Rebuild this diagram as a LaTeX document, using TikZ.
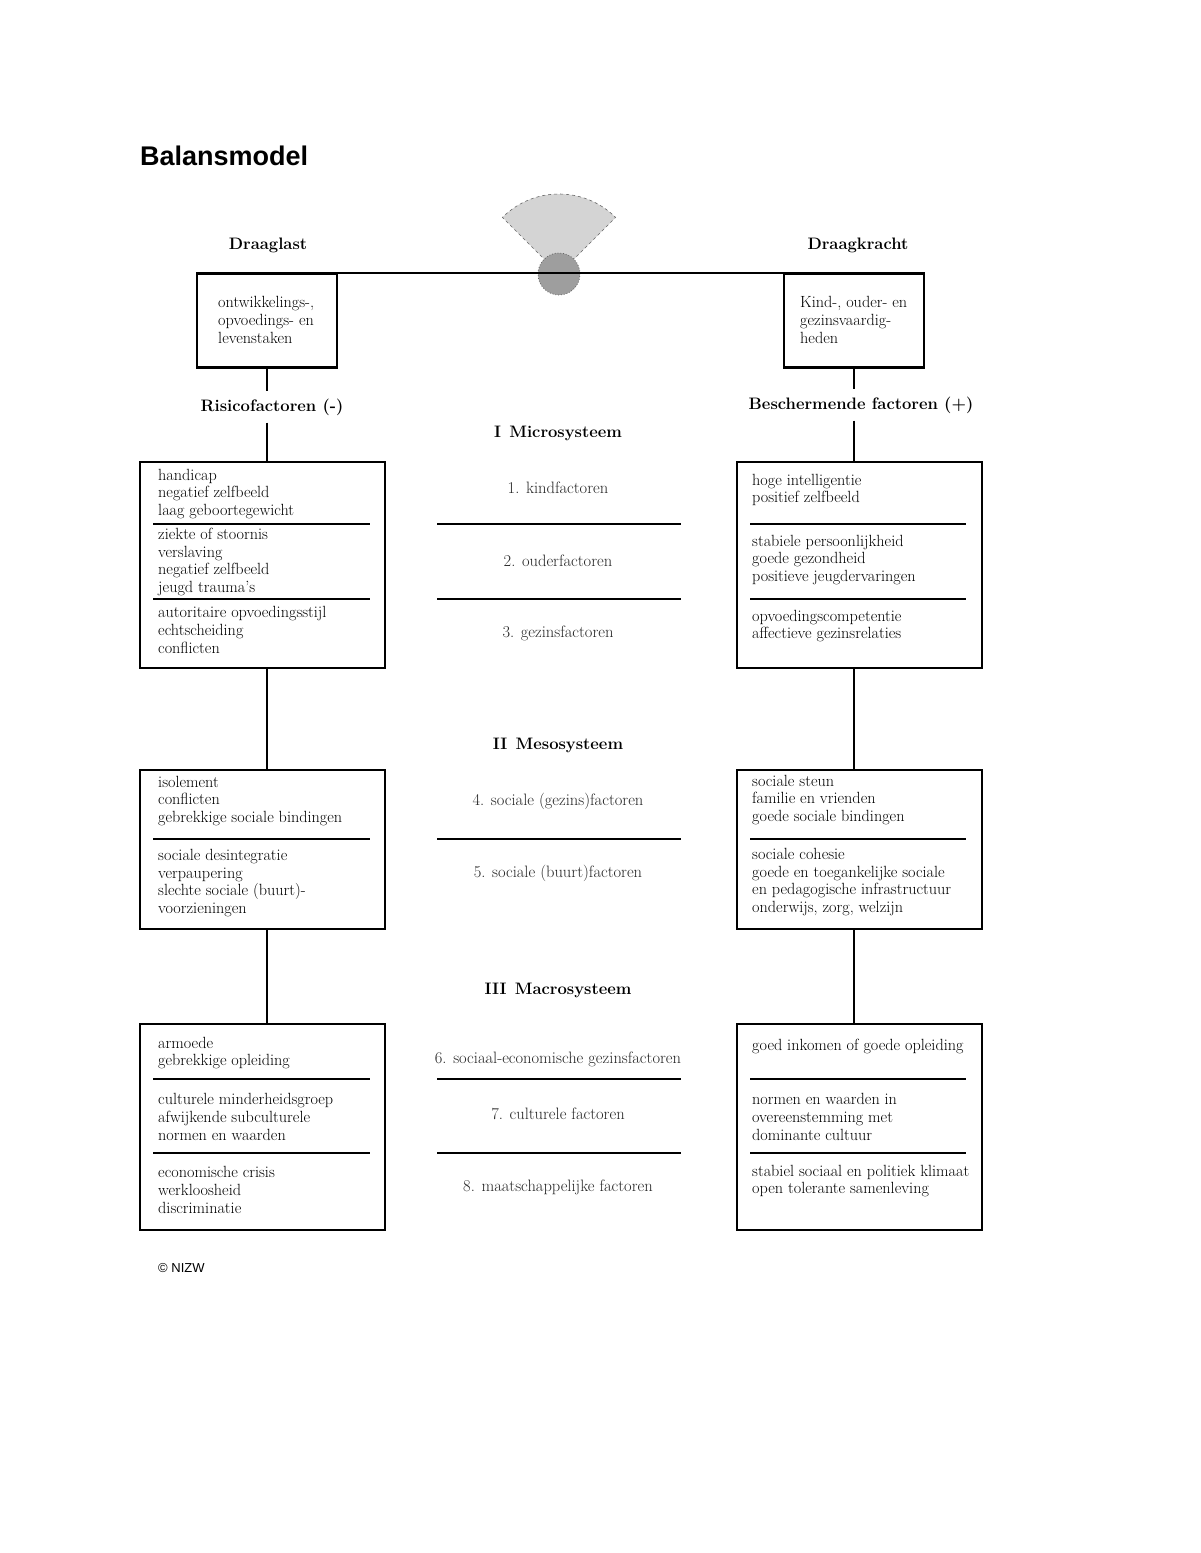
\documentclass[tikz,border=0pt]{standalone}
\usepackage{fontspec}
\newfontfamily\arialfont{Liberation Sans}
\usetikzlibrary{positioning}

\tikzset{
  factorbox/.style={draw, line width=1.6pt, anchor=north west, minimum width=245pt, inner sep=0pt},
  topbox/.style={draw, line width=1.6pt, anchor=north west, minimum width=140pt, minimum height=93pt, inner sep=0pt},
  itemtext/.style={anchor=west, align=left, inner sep=0pt, font=\fontsize{16.2}{17.6}\selectfont},
  midtext/.style={inner sep=0pt, text=black!85, font=\fontsize{16.5}{18}\selectfont},
  headtext/.style={inner sep=0pt, font=\bfseries\fontsize{16.6}{19}\selectfont},
  divthick/.style={line width=2.4pt},
  divthin/.style={line width=1.4pt},
  link/.style={line width=1.4pt}
}

\begin{document}
\begin{tikzpicture}[x=1pt, y=-1pt]
    \useasboundingbox (0,0) rectangle (1200,1553);
    \fill[white] (0,0) rectangle (1200,1553);
    % Title
    \node[anchor=base west, inner sep=0pt, font=\arialfont\bfseries\fontsize{27}{30}\selectfont] (title) at (140,165) {Balansmodel};

    % Balance: pointer and pivot
    \coordinate (pivot) at (559,274);
    \filldraw[fill=black!17, draw=black!60, dashed, line width=0.6pt] (pivot) -- ++(135:80pt) arc[start angle=135, end angle=45, radius=80pt] -- cycle;
    \filldraw[fill=black!38, draw=black!60, dotted, line width=0.8pt] (pivot) circle[radius=21pt];

    % Scale pans
    \node[topbox] (lastbox) at (196,273) {};
    \node[topbox] (krachtbox) at (783,273) {};
    \draw[line width=1.6pt] (lastbox.north west) -- (krachtbox.north east);
    \draw[line width=2.8pt] (lastbox.south west) -- (lastbox.south east);
    \draw[line width=2.8pt] (krachtbox.south west) -- (krachtbox.south east);
    \node[itemtext] (lasttext) at (218,320) {ontwikkelings-,\\opvoedings- en\\levenstaken};
    \node[itemtext] (krachttext) at (800,320) {Kind-, ouder- en\\gezinsvaardig-\\heden};
    \node[headtext] (lastlbl) at (268,245) {Draaglast};
    \node[headtext] (krachtlbl) at (858,245) {Draagkracht};

    % Column headings
    \node[headtext, inner ysep=7pt] (risklbl) at (272,407) {Risicofactoren (-)};
    \node[headtext, inner ysep=7pt] (protlbl) at (861,405) {Beschermende factoren (+)};
    \node[headtext] (micro) at (558,433) {I\enspace Microsysteem};
    \node[headtext] (meso) at (558,745) {II\enspace Mesosysteem};
    \node[headtext] (macro) at (558,990) {III\enspace Macrosysteem};

    % I Microsysteem
    \node[factorbox, minimum height=206pt] (risk1) at (139,461) {};
    \node[itemtext] (r1a) at (158,494) {handicap\\negatief zelfbeeld\\laag geboortegewicht};
    \draw[divthick] (153,524) -- (370,524);
    \node[itemtext] (r1b) at (158,562) {ziekte of stoornis\\verslaving\\negatief zelfbeeld\\jeugd trauma's};
    \draw[divthin] (153,599) -- (370,599);
    \node[itemtext] (r1c) at (158,630) {autoritaire opvoedingsstijl\\echtscheiding\\conflicten};

    \node[midtext] (kind) at (558,488) {1. kindfactoren};
    \draw[divthick] (437,524) -- (681,524);
    \node[midtext] (ouder) at (558,561) {2. ouderfactoren};
    \draw[divthin] (437,599) -- (681,599);
    \node[midtext] (gezin) at (558,633) {3. gezinsfactoren};

    \node[factorbox, minimum height=206pt] (prot1) at (736,461) {};
    \node[itemtext] (p1a) at (752,490) {hoge intelligentie\\positief zelfbeeld};
    \draw[divthick] (750,524) -- (966,524);
    \node[itemtext] (p1b) at (752,560) {stabiele persoonlijkheid\\goede gezondheid\\positieve jeugdervaringen};
    \draw[divthin] (750,599) -- (966,599);
    \node[itemtext] (p1c) at (752,626) {opvoedingscompetentie\\affectieve gezinsrelaties};

    % II Mesosysteem
    \node[factorbox, minimum height=159pt] (risk2) at (139,769) {};
    \node[itemtext] (r2a) at (158,801) {isolement\\conflicten\\gebrekkige sociale bindingen};
    \draw[divthin] (153,839) -- (370,839);
    \node[itemtext] (r2b) at (158,883) {sociale desintegratie\\verpaupering\\slechte sociale (buurt)-\\voorzieningen};

    \node[midtext] (sgezin) at (558,801) {4. sociale (gezins)factoren};
    \draw[divthin] (437,839) -- (681,839);
    \node[midtext] (sbuurt) at (558,873) {5. sociale (buurt)factoren};

    \node[factorbox, minimum height=159pt] (prot2) at (736,769) {};
    \node[itemtext] (p2a) at (752,800) {sociale steun\\familie en vrienden\\goede sociale bindingen};
    \draw[divthin] (750,839) -- (966,839);
    \node[itemtext] (p2b) at (752,882) {sociale cohesie\\goede en toegankelijke sociale\\en pedagogische infrastructuur\\onderwijs, zorg, welzijn};

    % III Macrosysteem
    \node[factorbox, minimum height=206pt] (risk3) at (139,1023) {};
    \node[itemtext] (r3a) at (158,1053) {armoede\\gebrekkige opleiding};
    \draw[divthin] (153,1079) -- (370,1079);
    \node[itemtext] (r3b) at (158,1117) {culturele minderheidsgroep\\afwijkende subculturele\\normen en waarden};
    \draw[divthick] (153,1153) -- (370,1153);
    \node[itemtext] (r3c) at (158,1190) {economische crisis\\werkloosheid\\discriminatie};

    \node[midtext] (soceco) at (558,1059) {6. sociaal-economische gezinsfactoren};
    \draw[divthin] (437,1079) -- (681,1079);
    \node[midtext] (cult) at (558,1114) {7. culturele factoren};
    \draw[divthick] (437,1153) -- (681,1153);
    \node[midtext] (maat) at (558,1187) {8. maatschappelijke factoren};

    \node[factorbox, minimum height=206pt] (prot3) at (736,1023) {};
    \node[itemtext] (p3a) at (752,1046) {goed inkomen of goede opleiding};
    \draw[divthin] (750,1079) -- (966,1079);
    \node[itemtext] (p3b) at (752,1117) {normen en waarden in\\overeenstemming met\\dominante cultuur};
    \draw[divthick] (750,1153) -- (966,1153);
    \node[itemtext] (p3c) at (752,1181) {stabiel sociaal en politiek klimaat\\open tolerante samenleving};

    % Vertical links
    \draw[link] (lastbox.south) -- (lastbox.south |- risklbl.north);
    \draw[link] (lastbox.south |- risklbl.south) -- (lastbox.south |- risk1.north);
    \draw[link] (lastbox.south |- risk1.south) -- (lastbox.south |- risk2.north);
    \draw[link] (lastbox.south |- risk2.south) -- (lastbox.south |- risk3.north);
    \draw[link] (krachtbox.south) -- (krachtbox.south |- protlbl.north);
    \draw[link] (krachtbox.south |- protlbl.south) -- (krachtbox.south |- prot1.north);
    \draw[link] (krachtbox.south |- prot1.south) -- (krachtbox.south |- prot2.north);
    \draw[link] (krachtbox.south |- prot2.south) -- (krachtbox.south |- prot3.north);

    % Source
    \node[anchor=west, inner sep=0pt, font=\arialfont\fontsize{13}{15}\selectfont] (source) at (158,1268) {© NIZW};
\end{tikzpicture}
\end{document}
